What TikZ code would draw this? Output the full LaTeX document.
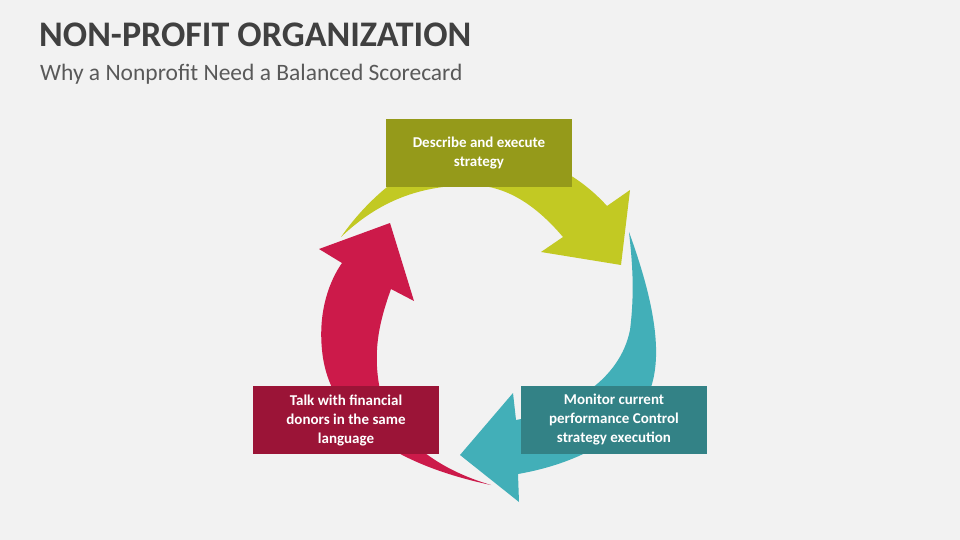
\documentclass[tikz,border=0pt]{standalone}
\usepackage{fontspec}
\setmainfont{Carlito}
\definecolor{bg}{HTML}{F2F2F2}
\definecolor{ylw}{HTML}{C2C923}
\definecolor{ylwbox}{HTML}{959A1A}
\definecolor{rd}{HTML}{CC1A4A}
\definecolor{rdbox}{HTML}{9B1437}
\definecolor{tl}{HTML}{42AFB8}
\definecolor{tlbox}{HTML}{338286}
\definecolor{ttl}{HTML}{404040}
\definecolor{sub}{HTML}{595959}
\begin{document}
\begin{tikzpicture}[x=1pt,y=-1pt,
  lbl/.style={fill=#1,text=white,font=\bfseries\fontsize{15}{19}\selectfont,align=center,minimum width=186pt,minimum height=68pt,inner sep=0pt}]
\fill[bg] (0,0) rectangle (960,540);
\useasboundingbox (0,0) rectangle (960,540);
\node[anchor=west,text=ttl,font=\bfseries\fontsize{36}{40}\selectfont,inner sep=0] (title) at (39,35) {NON-PROFIT ORGANIZATION};
\node[anchor=west,text=sub,font=\fontsize{23.5}{27}\selectfont,inner sep=0] (subtitle) at (40,74) {Why a Nonprofit Need a Balanced Scorecard};
% yellow arrow
\fill[ylw] (341,237) .. controls (380,200) and (420,186) .. (470,185) .. controls (510,185) and (540,210) .. (563,237) -- (541,252) -- (621,265) -- (630,190) -- (607,206) .. controls (570,165) and (520,148) .. (470,150) .. controls (420,153) and (370,195) .. (341,237) -- cycle;
% red arrow
\fill[rd] (491,485) .. controls (420,470) and (330,435) .. (322,350) .. controls (318,310) and (330,280) .. (342,263) -- (319,249) -- (390,223) -- (414,301) -- (391,289) .. controls (380,320) and (372,350) .. (380,390) .. controls (395,440) and (440,470) .. (491,485) -- cycle;
% teal arrow
\fill[tl] (629,232) .. controls (650,290) and (665,350) .. (650,390) .. controls (630,440) and (570,465) .. (518,474) -- (519,502) -- (460,455) -- (513,393) -- (516,420) .. controls (570,410) and (620,380) .. (630,330) .. controls (635,290) and (632,260) .. (629,232) -- cycle;
\node[lbl=ylwbox] (b1) at (479,153) {Describe and execute\\strategy};
\node[lbl=rdbox] (b2) at (346,420) {Talk with financial\\donors in the same\\language};
\node[lbl=tlbox] (b3) at (614,420) {Monitor current\\performance Control\\strategy execution};
\end{tikzpicture}
\end{document}
